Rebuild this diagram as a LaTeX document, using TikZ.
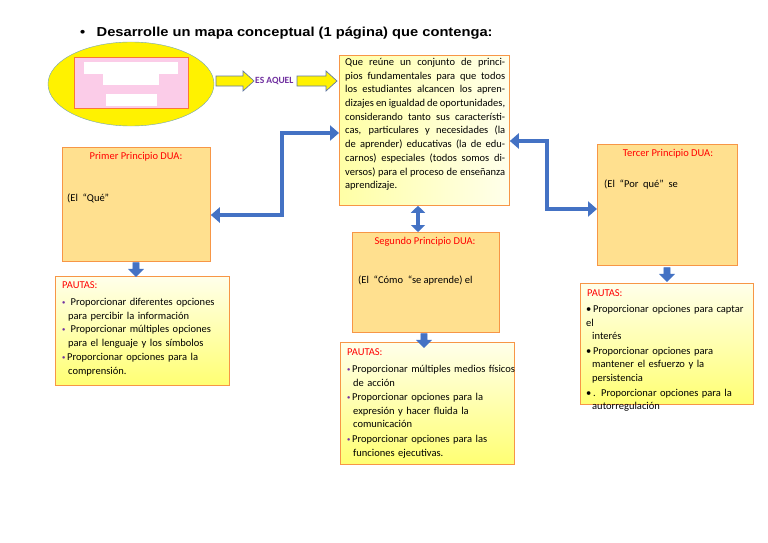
\documentclass[tikz,border=0pt]{standalone}
\usepackage{fontspec}
\setmainfont{Carlito}
\newfontfamily\titlefont{Liberation Sans}
\usetikzlibrary{arrows.meta,shapes.geometric,shapes.arrows}
\definecolor{bl}{HTML}{4472C4}
\definecolor{orb}{HTML}{F79646}
\definecolor{pbox}{HTML}{FFE08F}
\definecolor{redt}{HTML}{FF0000}
\definecolor{purp}{HTML}{7030A0}
\tikzset{
 princ/.style={draw=orb,line width=0.8pt,fill=pbox,anchor=north west},
 pauta/.style={draw=orb,line width=0.8pt,top color=yellow!8,bottom color=yellow!55,anchor=north west},
 conn2/.style={draw=bl,line width=4pt,{Triangle[length=9pt,width=15pt]}-{Triangle[length=9pt,width=15pt]}},
 downarr/.style={single arrow,draw=bl,fill=bl,shape border rotate=270,minimum width=15pt,single arrow head extend=3pt,minimum height=14pt,inner sep=2pt},
 yarr/.style={draw=bl!50!gray,fill=yellow,line width=0.7pt},
 txt/.style={font=\fontsize{10.5}{13.6}\selectfont,align=left,anchor=north west,inner sep=0pt},
 ttl/.style={font=\fontsize{10.5}{12}\selectfont,text=redt,inner sep=0pt},
}
\newcommand{\pb}{\textcolor{purp}{\raisebox{1pt}{\scalebox{0.6}{$\bullet$}}}\,}
\begin{document}
\begin{tikzpicture}[x=1pt,y=-1pt]
\useasboundingbox (0,0) rectangle (768,543);
\fill[white] (0,0) rectangle (768,543);
% title
\node[anchor=west,inner sep=0pt,font=\titlefont\bfseries\fontsize{13}{15}\selectfont,xscale=1.13] (title) at (80,33) {\textbullet\hspace{10pt}Desarrolle un mapa conceptual (1 página) que contenga:};
% ellipse
\node[ellipse,draw=cyan!40!gray,fill=yellow,minimum width=166pt,minimum height=84pt,inner sep=0pt] (ell) at (131,84) {};
\node[draw=orb!80!red,fill=magenta!20,minimum width=114pt,minimum height=51pt,inner sep=0pt,line width=0.8pt] (pink) at (131,82.5) {};
\fill[white] (84,62) rectangle (178,74);
\fill[white] (103,74) rectangle (159,85);
\fill[white] (106,94) rectangle (157,106);
% yellow arrows
\draw[yarr] (216,76) -- (243,76) -- (243,71) -- (254,81) -- (243,91) -- (243,86) -- (216,86) -- cycle;
\node[anchor=west,inner sep=0pt,text=purp,font=\bfseries\fontsize{9.5}{10}\selectfont] (esa) at (255,81) {ES AQUEL};
\draw[yarr] (297,76) -- (326,76) -- (326,71) -- (337,81) -- (326,91) -- (326,86) -- (297,86) -- cycle;
% main box
\node[draw=orb,line width=0.8pt,left color=yellow!35,right color=yellow!8,anchor=north west,minimum width=170pt,minimum height=150pt] (main) at (339,55) {};
\node[txt,text width=160pt,align=justify,font=\fontsize{10.5}{13.7}\selectfont] (maint) at (345,58) {\hyphenpenalty=10000\exhyphenpenalty=10000\tolerance=9999\emergencystretch=20pt Que reúne un conjunto de principios fundamentales para que todos los estudiantes alcancen los aprendizajes en igualdad de oportunidades, considerando tanto sus características, particulares y necesidades (la de aprender) educativas (la de educarnos) especiales (todos somos diversos) para el proceso de enseñanza aprendizaje.};
% principle boxes
\node[princ,minimum width=148pt,minimum height=114pt] (p1) at (62,147) {};
\node[ttl] (p1t) at (136,157) {Primer Principio DUA:};
\node[txt] (p1x) at (67,194) {(El \ “Qué”};
\node[princ,minimum width=147pt,minimum height=100pt] (p2) at (352,232) {};
\node[ttl] (p2t) at (425,242) {Segundo Principio DUA:};
\node[txt] (p2x) at (358,276) {(El \ “Cómo \ “se aprende) el};
\node[princ,minimum width=140pt,minimum height=121pt] (p3) at (597,144) {};
\node[ttl] (p3t) at (668,154) {Tercer Principio DUA:};
\node[txt] (p3x) at (604,180) {(El \ “Por \ qué” \ se};
% pautas
\node[pauta,minimum width=174pt,minimum height=109pt] (q1) at (55,276) {};
\node[ttl,anchor=west] (q1t) at (62,285) {PAUTAS:};
\node[txt,text width=170pt] (q1x) at (62,298) {\pb\ Proporcionar diferentes opciones\\\hspace*{6pt}para percibir la información\\\pb\ Proporcionar múltiples opciones\\\hspace*{6pt}para el lenguaje y los símbolos\\[1pt]\pb Proporcionar opciones para la\\\hspace*{6pt}comprensión.};
\node[pauta,minimum width=174pt,minimum height=122pt] (q2) at (340,342) {};
\node[ttl,anchor=west] (q2t) at (347,352) {PAUTAS:};
\node[txt,text width=170pt] (q2x) at (347,365) {\pb Proporcionar múltiples medios físicos\\\hspace*{6pt}de acción\\[1pt]\pb Proporcionar opciones para la\\\hspace*{6pt}expresión y hacer fluida la\\\hspace*{6pt}comunicación\\[1pt]\pb Proporcionar opciones para las\\\hspace*{6pt}funciones ejecutivas.};
\node[pauta,minimum width=173pt,minimum height=121pt] (q3) at (580,283) {};
\node[ttl,anchor=west] (q3t) at (587,293) {PAUTAS:};
\node[txt,text width=165pt] (q3x) at (586,305) {\textbullet\,Proporcionar opciones para captar el\\\hspace*{6pt}interés\\[1pt]\textbullet\,Proporcionar opciones para\\\hspace*{6pt}mantener el esfuerzo y la\\\hspace*{6pt}persistencia\\[1pt]\textbullet\,. Proporcionar opciones para la\\\hspace*{6pt}autorregulación};
% connectors
\coordinate (c1) at (282,133);
\coordinate (c2) at (282,215);
\draw[conn2] (main.west |- c1) -- (c1) -- (c2) -- (p1.east |- c2);
\coordinate (d1) at (547,141);
\coordinate (d2) at (547,209);
\draw[conn2] (main.east |- d1) -- (d1) -- (d2) -- (p3.west |- d2);
\draw[draw=bl,line width=4pt,{Triangle[length=7pt,width=14pt]}-{Triangle[length=7pt,width=14pt]}] (main.south -| 418,0) -- (p2.north -| 418,0);
% down arrows
\node[downarr] (a1) at (136,268) {};
\node[downarr] (a2) at (424,339) {};
\node[downarr] (a3) at (667,273) {};
\end{tikzpicture}
\end{document}
